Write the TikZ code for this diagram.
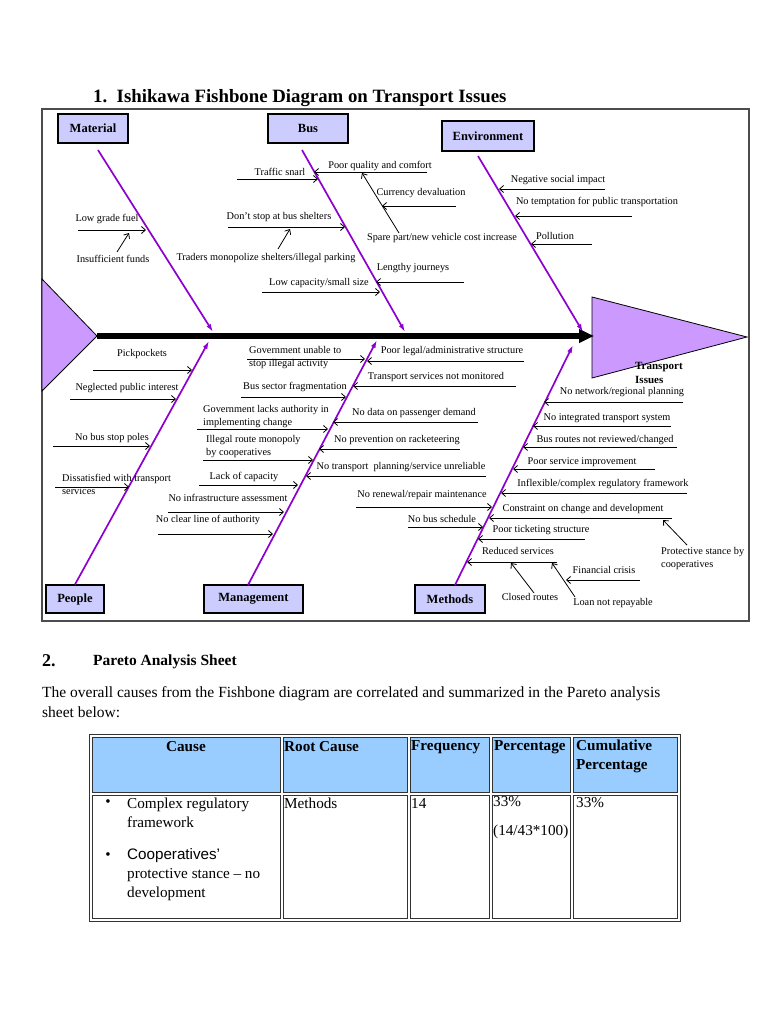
\documentclass[tikz,border=0pt]{standalone}
\usepackage{fontspec}
\setmainfont{Liberation Serif}
\newfontfamily\arialfont{Liberation Sans}
\usetikzlibrary{arrows.meta}

\definecolor{boxfill}{HTML}{CCCCFF}
\definecolor{fishfill}{HTML}{CC99FF}
\definecolor{bonecol}{HTML}{8E00D0}
\definecolor{hdfill}{HTML}{99CCFF}

\tikzset{
  lbl/.style={inner sep=0pt, font=\fontsize{10.3}{13}\selectfont},
  catbox/.style={draw, fill=boxfill, line width=1.1pt, inner sep=0pt,
    font=\bfseries\fontsize{12.5}{14}\selectfont},
  bone/.style={draw=bonecol, line width=1.7pt, -{Latex[length=8pt,width=5pt]}},
  cause/.style={draw=black, line width=0.8pt, -{Straight Barb[length=4pt,width=7pt]}},
  spine/.style={draw=black, line width=5.5pt, -{Triangle[length=15pt,width=13pt]}},
  fishend/.style={draw=black, fill=fishfill, line width=0.8pt},
  cell/.style={draw=black!80, line width=0.8pt},
  txt/.style={inner sep=0pt, font=\fontsize{15.2}{19}\selectfont},
  hdtxt/.style={inner sep=0pt, font=\bfseries\fontsize{15.2}{19}\selectfont}
}

\begin{document}
\begin{tikzpicture}[x=1pt,y=-1pt]

        \useasboundingbox[fill=white] (0,0) rectangle (768,1024);

        % title and frame
        \node[inner sep=0pt, anchor=base west, font=\bfseries\fontsize{18.8}{20}\selectfont] at (93,103) (title) {1.\ \ Ishikawa Fishbone Diagram on Transport Issues};
        \draw[draw=black!70, line width=1.2pt] (42,109) rectangle (749,621);

        % head and tail of the fish
        \draw[fishend] (42,279) -- (97,336) -- (42,391) -- cycle;
        \draw[fishend] (592,297) -- (747,337) -- (592,378) -- cycle;
        \coordinate (tailP) at (97,336);
        \coordinate (headP) at (594,336);
        \draw[spine] (tailP) -- (headP);
        \node[inner sep=0pt, anchor=west, align=left, font=\bfseries\fontsize{11}{14}\selectfont] at (635,373) (issue) {Transport\\Issues};

        % categories
        \node[catbox, minimum width=70pt, minimum height=29pt] at (93,128.5) (mat) {Material};
        \node[catbox, minimum width=80pt, minimum height=29pt] at (308,128.5) (bus) {Bus};
        \node[catbox, minimum width=92pt, minimum height=30pt] at (488,136) (env) {Environment};
        \node[catbox, minimum width=58pt, minimum height=28pt] at (75,599) (peo) {People};
        \node[catbox, minimum width=99pt, minimum height=28pt] at (253.5,599) (mgt) {Management};
        \node[catbox, minimum width=70pt, minimum height=28pt] at (450,599) (mth) {Methods};

        % bones
        \coordinate (matA) at (98,150);  \coordinate (matB) at (213,332);
        \coordinate (busA) at (302,150); \coordinate (busB) at (405,332);
        \coordinate (envA) at (478,156); \coordinate (envB) at (583,332);
        \coordinate (peoB) at (209,341);
        \coordinate (mgtA) at (248,585); \coordinate (mgtB) at (377,340);
        \coordinate (mthA) at (455,585); \coordinate (mthB) at (573,345);
        \draw[bone] (matA) -- (matB);
        \draw[bone] (busA) -- (busB);
        \draw[bone] (envA) -- (envB);
        \draw[bone] (peo.north) -- (peoB);
        \draw[bone] (mgtA) -- (mgtB);
        \draw[bone] (mthA) -- (mthB);

        % Material
        \node[lbl] at (107,219) (lgf) {Low grade fuel};
        \coordinate (lgf1) at (78,230); \coordinate (lgf2) at (146,230);
        \draw[cause] (lgf1) -- (lgf2);
        \node[lbl] at (113,259) (insf) {Insufficient funds};
        \coordinate (insf1) at (117,252); \coordinate (insf2) at (129,233);
        \draw[cause] (insf1) -- (insf2);

        % Bus
        \node[lbl] at (280,172) (snarl) {Traffic snarl};
        \coordinate (snarl1) at (237,179); \coordinate (snarl2) at (318,179);
        \draw[cause] (snarl1) -- (snarl2);
        \node[lbl] at (380,166) (pqc) {Poor quality and comfort};
        \coordinate (pqc1) at (427,172); \coordinate (pqc2) at (314,172);
        \draw[cause] (pqc1) -- (pqc2);
        \node[lbl] at (421,193) (cdev) {Currency devaluation};
        \coordinate (cdev1) at (456,206); \coordinate (cdev2) at (382,206);
        \draw[cause] (cdev1) -- (cdev2);
        \node[lbl] at (442,238) (spare) {Spare part/new vehicle cost increase};
        \coordinate (spare1) at (399,233); \coordinate (spare2) at (362,173);
        \draw[cause] (spare1) -- (spare2);
        \node[lbl] at (279,217) (dstop) {Don't stop at bus shelters};
        \coordinate (dstop1) at (228,227); \coordinate (dstop2) at (345,227);
        \draw[cause] (dstop1) -- (dstop2);
        \node[lbl] at (266,258) (trad) {Traders monopolize shelters/illegal parking};
        \coordinate (trad1) at (278,249); \coordinate (trad2) at (290,229);
        \draw[cause] (trad1) -- (trad2);
        \node[lbl] at (413,268) (lenj) {Lengthy journeys};
        \coordinate (lenj1) at (464,282); \coordinate (lenj2) at (376,282);
        \draw[cause] (lenj1) -- (lenj2);
        \node[lbl] at (319,283) (lowc) {Low capacity/small size};
        \coordinate (lowc1) at (262,292); \coordinate (lowc2) at (380,292);
        \draw[cause] (lowc1) -- (lowc2);

        % Environment
        \node[lbl] at (558,180) (neg) {Negative social impact};
        \coordinate (neg1) at (605,189); \coordinate (neg2) at (499,189);
        \draw[cause] (neg1) -- (neg2);
        \node[lbl] at (597,202) (nott) {No temptation for public transportation};
        \coordinate (nott1) at (632,216); \coordinate (nott2) at (515,216);
        \draw[cause] (nott1) -- (nott2);
        \node[lbl] at (555,236) (poll) {Pollution};
        \coordinate (poll1) at (592,244); \coordinate (poll2) at (531,244);
        \draw[cause] (poll1) -- (poll2);

        % People
        \node[lbl] at (142,354) (pick) {Pickpockets};
        \coordinate (pick1) at (93,370); \coordinate (pick2) at (192,370);
        \draw[cause] (pick1) -- (pick2);
        \node[lbl] at (127,388) (negl) {Neglected public interest};
        \coordinate (negl1) at (70,399); \coordinate (negl2) at (176,399);
        \draw[cause] (negl1) -- (negl2);
        \node[lbl] at (112,438) (pole) {No bus stop poles};
        \coordinate (pole1) at (53,446); \coordinate (pole2) at (150,446);
        \draw[cause] (pole1) -- (pole2);
        \node[lbl, anchor=west, align=left] at (62,484) (diss) {Dissatisfied with transport\\services};
        \coordinate (diss1) at (55,487); \coordinate (diss2) at (129,487);
        \draw[cause] (diss1) -- (diss2);

        % Management
        \node[lbl, anchor=west, align=left] at (249,357.5) (gun) {Government unable to\\stop illegal activity};
        \coordinate (gun1) at (247,359); \coordinate (gun2) at (365,359);
        \draw[cause] (gun1) -- (gun2);
        \node[lbl] at (295,387) (frag) {Bus sector fragmentation};
        \coordinate (frag1) at (241,397); \coordinate (frag2) at (346,397);
        \draw[cause] (frag1) -- (frag2);
        \node[lbl, anchor=west, align=left] at (203,416.5) (gla) {Government lacks authority in\\implementing change};
        \coordinate (gla1) at (197,429); \coordinate (gla2) at (328,429);
        \draw[cause] (gla1) -- (gla2);
        \node[lbl, anchor=west, align=left] at (206,446.5) (irm) {Illegal route monopoly\\by cooperatives};
        \coordinate (irm1) at (203,460); \coordinate (irm2) at (313,460);
        \draw[cause] (irm1) -- (irm2);
        \node[lbl] at (244,477) (lcap) {Lack of capacity};
        \coordinate (lcap1) at (199,485); \coordinate (lcap2) at (298,485);
        \draw[cause] (lcap1) -- (lcap2);
        \node[lbl] at (228,498) (ninf) {No infrastructure assessment};
        \coordinate (ninf1) at (168,512); \coordinate (ninf2) at (284,512);
        \draw[cause] (ninf1) -- (ninf2);
        \node[lbl] at (208,520) (ncl) {No clear line of authority};
        \coordinate (ncl1) at (158,534); \coordinate (ncl2) at (273,534);
        \draw[cause] (ncl1) -- (ncl2);

        \node[lbl] at (452,351) (plas) {Poor legal/administrative structure};
        \coordinate (plas1) at (524,361); \coordinate (plas2) at (367,361);
        \draw[cause] (plas1) -- (plas2);
        \node[lbl] at (436,377) (tsnm) {Transport services not monitored};
        \coordinate (tsnm1) at (516,386); \coordinate (tsnm2) at (353,386);
        \draw[cause] (tsnm1) -- (tsnm2);
        \node[lbl] at (414,413) (ndpd) {No data on passenger demand};
        \coordinate (ndpd1) at (478,422); \coordinate (ndpd2) at (333,422);
        \draw[cause] (ndpd1) -- (ndpd2);
        \node[lbl] at (397,440) (npr) {No prevention on racketeering};
        \coordinate (npr1) at (460,449); \coordinate (npr2) at (319,449);
        \draw[cause] (npr1) -- (npr2);
        \node[lbl] at (401,467) (ntp) {No transport\ \ planning/service unreliable};
        \coordinate (ntp1) at (486,476); \coordinate (ntp2) at (306,476);
        \draw[cause] (ntp1) -- (ntp2);

        % Methods
        \node[lbl] at (422,495) (nren) {No renewal/repair maintenance};
        \coordinate (nren1) at (356,507); \coordinate (nren2) at (492,507);
        \draw[cause] (nren1) -- (nren2);
        \node[lbl] at (442,519) (nbs) {No bus schedule};
        \coordinate (nbs1) at (408,527); \coordinate (nbs2) at (483,527);
        \draw[cause] (nbs1) -- (nbs2);

        \node[lbl] at (622,392) (nnet) {No network/regional planning};
        \coordinate (nnet1) at (683,402); \coordinate (nnet2) at (544,402);
        \draw[cause] (nnet1) -- (nnet2);
        \node[lbl] at (607,418) (nits) {No integrated transport system};
        \coordinate (nits1) at (671,426); \coordinate (nits2) at (533,426);
        \draw[cause] (nits1) -- (nits2);
        \node[lbl] at (605,440) (brr) {Bus routes not reviewed/changed};
        \coordinate (brr1) at (677,447); \coordinate (brr2) at (523,447);
        \draw[cause] (brr1) -- (brr2);
        \node[lbl] at (582,462) (psi) {Poor service improvement};
        \coordinate (psi1) at (655,469); \coordinate (psi2) at (513,469);
        \draw[cause] (psi1) -- (psi2);
        \node[lbl] at (603,484) (icr) {Inflexible/complex regulatory framework};
        \coordinate (icr1) at (687,493); \coordinate (icr2) at (501,493);
        \draw[cause] (icr1) -- (icr2);
        \node[lbl] at (583,509) (ccd) {Constraint on change and development};
        \coordinate (ccd1) at (672,518); \coordinate (ccd2) at (489,518);
        \draw[cause] (ccd1) -- (ccd2);
        \node[lbl, anchor=west, align=left] at (661,559) (pst) {Protective stance by\\cooperatives};
        \coordinate (pst1) at (687,545); \coordinate (pst2) at (663,520);
        \draw[cause] (pst1) -- (pst2);
        \node[lbl] at (541,530) (pts) {Poor ticketing structure};
        \coordinate (pts1) at (585,539); \coordinate (pts2) at (478,539);
        \draw[cause] (pts1) -- (pts2);
        \node[lbl] at (518,551) (reds) {Reduced services};
        \coordinate (reds1) at (557,562); \coordinate (reds2) at (467,562);
        \draw[cause] (reds1) -- (reds2);
        \node[lbl] at (604,570) (fin) {Financial crisis};
        \coordinate (fin1) at (640,580); \coordinate (fin2) at (566,580);
        \draw[cause] (fin1) -- (fin2);
        \node[lbl] at (530,597) (clr) {Closed routes};
        \coordinate (clr1) at (534,593); \coordinate (clr2) at (511,563);
        \draw[cause] (clr1) -- (clr2);
        \node[lbl] at (613,603) (loan) {Loan not repayable};
        \coordinate (loan1) at (575,597); \coordinate (loan2) at (552,563);
        \draw[cause] (loan1) -- (loan2);

        % Pareto part
        \node[inner sep=0pt, anchor=west, font=\bfseries\fontsize{18}{20}\selectfont] at (42,661) (two) {2.};
        \node[inner sep=0pt, anchor=west, font=\bfseries\fontsize{15.5}{17}\selectfont] at (93,662) (pas) {Pareto Analysis Sheet};
        \node[inner sep=0pt, anchor=west, align=left, font=\fontsize{15.5}{20}\selectfont] at (42,702) (intro) {The overall causes from the Fishbone diagram are correlated and summarized in the Pareto analysis\\sheet below:};

        \draw[cell] (89,734) rectangle (680,921);
        \foreach \xa/\xb in {92/280, 283/407, 410/489, 492/570, 573/677} {
          \draw[cell, fill=hdfill] (\xa,737) rectangle (\xb,792);
          \draw[cell] (\xa,795) rectangle (\xb,918);
        }
        \node[hdtxt] at (186,747) (hcause) {Cause};
        \node[hdtxt, anchor=west] at (284,747) (hroot) {Root Cause};
        \node[hdtxt, anchor=west] at (411,747) (hfreq) {Frequency};
        \node[hdtxt, anchor=west] at (494,747) (hpct) {Percentage};
        \node[hdtxt, anchor=west, align=left] at (576,756.5) (hcum) {Cumulative\\Percentage};

        \node[txt] at (108,803) (b1) {\textbullet};
        \node[txt, anchor=west, align=left] at (127,813) (c1) {Complex regulatory\\framework};
        \node[txt] at (108,856) (b2) {\textbullet};
        \node[txt, anchor=west, align=left] at (127,875) (c2) {{\arialfont Cooperatives’}\\protective stance -- no\\development};
        \node[txt, anchor=west] at (284,803) (root) {Methods};
        \node[txt, anchor=west] at (411,803) (freq) {14};
        \node[txt, anchor=west, align=left] at (493,818) (pct) {33\%\\[10pt](14/43*100)};
        \node[txt, anchor=west] at (576,803) (cum) {33\%};

\end{tikzpicture}
\end{document}
